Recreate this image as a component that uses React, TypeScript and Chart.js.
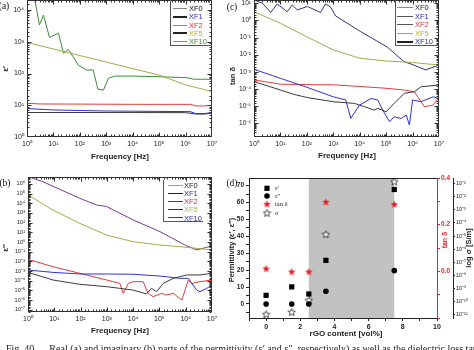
import React, { useEffect, useRef } from 'react';
import { Chart, registerables } from 'chart.js';
Chart.register(...registerables);

const W = 474, H = 350;
const FREQ_MIN = 1, FREQ_MAX = 1e7;
const NAMES = ['XF0', 'XF1', 'XF2', 'XF5', 'XF10'];

// ---------- (a) real permittivity ----------
const A_XF0_F = [1, 1e3, 1e6, 2.5e6, 5e6, 1e7];
const A_XF0_V = [5.9, 5.9, 5.85, 5.3, 5.3, 5.6];
const A_XF1_F = [1, 10, 1e3, 1e5, 1.5e6, 2.5e6, 5e6, 1e7];
const A_XF1_V = [7.9, 7.1, 6.6, 6.4, 6.3, 5.4, 5.4, 6.0];
const A_XF2_F = [1, 3, 1e4, 1.5e6, 2.5e6, 5e6, 1e7];
const A_XF2_V = [11.5, 11, 10.7, 10.7, 9.5, 9.5, 10];
const A_XF5_F = [1, 1e5, 1e6, 1e7];
const A_XF5_V = [950, 89, 44, 27];
const A_XF10_F = [1, 2, 2.95, 4.2, 7.1, 15.5, 24, 37, 87, 180, 320, 480, 780, 1200, 2100, 9000, 1.1e5, 1.1e6, 2.0e6, 1e7];
const A_XF10_V = [1e6, 2.0e4, 3400, 6900, 1380, 1860, 440, 575, 186, 129, 129, 32, 30, 71, 83, 83, 79, 74, 66, 66];

// ---------- (b) imaginary permittivity ----------
const B_XF0_F = [1, 8.9, 93, 980, 3100, 1e4, 3.2e4, 5e4, 7.8e4, 1.4e5, 3.4e5, 1.1e6, 3.5e6, 1e7];
const B_XF0_V = [7.2e-4, 1.17e-4, 4.2e-5, 2.4e-5, 1.6e-5, 1.07e-5, 4.2e-6, 1.6e-5, 7.2e-6, 5.2e-5, 1.74e-4, 3.9e-4, 3.9e-4, 5.8e-4];
const B_XF1_F = [1, 8.9, 93, 980, 1e4, 1.05e5, 6e5, 1.26e6, 2.6e6, 3.5e6, 6.3e6, 1e7];
const B_XF1_V = [1.26e-3, 7.2e-4, 4.9e-4, 4.9e-4, 4.6e-4, 3.0e-4, 1.74e-4, 1.74e-4, 1.07e-5, 7.2e-6, 1.6e-5, 3.5e-5];
const B_XF2_F = [1, 8.9, 93, 980, 3100, 4200, 6500, 1e4, 2.4e4, 3.7e4, 5.75e4, 1.2e5, 1.86e5, 3.4e5, 7.1e5, 1.26e6, 1.7e6, 3.5e6, 1e7];
const B_XF2_V = [0.016, 2.8e-3, 5.8e-4, 1.17e-4, 5.2e-5, 4.9e-6, 5.2e-5, 7.9e-5, 7.9e-5, 4.9e-6, 2.2e-6, 4.9e-6, 3.3e-6, 4.9e-6, 1.0e-6, 1.17e-4, 5.2e-5, 7.9e-5, 1.17e-4];
const B_XF5_F = [1, 8.9, 93, 980, 1e4, 1.05e5, 1.1e6, 1e7];
const B_XF5_V = [7.2e4, 2000, 85, 5.2, 1.07, 0.49, 0.28, 0.15];
const B_XF10_F = [1, 3.7, 93, 400, 980, 1e4, 1.05e5, 9.3e5, 2.6e6, 1e7];
const B_XF10_V = [5.8e6, 1.7e6, 3.3e4, 6800, 4600, 190, 11.7, 0.49, 0.15, 0.39];

// ---------- (c) tan delta ----------
const C_XF0_F = [1, 10, 32, 100, 1000, 6300, 1.5e4, 3.6e4, 4.8e4, 1e5, 2.0e5, 4.9e5, 1.17e6, 2.1e6, 1e7];
const C_XF0_V = [2.7e-4, 8.7e-5, 4.9e-5, 3.2e-5, 1.8e-5, 1.45e-5, 9.3e-6, 5.9e-6, 7.4e-6, 4.7e-6, 1.45e-5, 5.6e-5, 6.9e-5, 1.35e-4, 1.7e-4];
const C_XF1_F = [1, 10, 100, 1000, 2950, 4600, 9800, 2.7e4, 4.8e4, 7.4e4, 1.35e5, 2.0e5, 3.7e5, 5.75e5, 7.6e5, 1.0e6, 2.1e6, 5.9e6, 1e7];
const C_XF1_V = [1.4e-3, 4.2e-4, 1.26e-4, 3.5e-5, 2.3e-5, 1.95e-6, 1.15e-5, 2.8e-5, 2.3e-5, 5.9e-6, 1.23e-6, 2.4e-6, 1.9e-6, 3.0e-6, 7.9e-7, 2.3e-5, 1.8e-5, 3.5e-5, 2.8e-5];
const C_XF2_F = [1, 10, 100, 1000, 1e4, 1e5, 4.9e5, 1.17e6, 2.8e6, 5.9e6, 1e7];
const C_XF2_V = [3.4e-4, 1.9e-4, 1.8e-4, 1.75e-4, 1.4e-4, 1.1e-4, 8.7e-5, 6.9e-5, 9.3e-6, 1.15e-5, 3.2e-5];
const C_XF5_F = [1, 10, 100, 1000, 1e4, 1e5, 1e6, 1e7];
const C_XF5_V = [3.2, 0.68, 0.11, 0.019, 0.0062, 0.0043, 0.0035, 0.0025];
const C_XF10_F = [1, 2.1, 4.3, 7.6, 18, 28, 44, 105, 330, 510, 800, 1230, 1.1e4, 1.1e5, 4.7e5, 1.1e6, 3.1e6, 1e7];
const C_XF10_V = [15.5, 10, 2.9, 9.1, 3.2, 7.9, 4.1, 6.5, 2.9, 9.1, 5.9, 1.8, 0.22, 0.028, 0.004, 0.0025, 0.0013, 0.0025];

// ---------- (d) vs rGO content ----------
const CONTENT = [0, 1.5, 2.5, 3.5, 7.5];
const EPS_REAL = [5.1, 10.1, 5.9, 25.8, 67.7];
const EPS_IMAG = [0, 0, 0, 7.5, 19.7];
const TAN_DELTA = [0.014, 0.001, 0.001, 0.30, 0.29];
const SIGMA = [1.0e-11, 1.5e-11, 1.2e-10, 1.3e-5, 0.135];
const SHADE_FROM = 2.5, SHADE_TO = 7.5;
const D_LEGEND = ['ε′', 'ε″', 'tan δ', 'σ'];

const CAPTION = 'Fig. 40\u2003\u2002Real (a) and imaginary (b) parts of the permittivity (ε′ and ε″, respectively) as well as the dielectric loss tan δ (c) of';

const COL = { XF0: '#3a3a3a', XF1: '#3030d8', XF2: '#e03a3a', XF5: '#a8a848' };
const XF10_A = '#3c8c3c', XF10_B = '#7a3a96', XF10_C = '#34347c';
const FONT = "'Liberation Sans', Arial, sans-serif";

const SUP: Record<string, string> = { '-': '⁻', '0': '⁰', '1': '¹', '2': '²', '3': '³', '4': '⁴', '5': '⁵', '6': '⁶', '7': '⁷', '8': '⁸', '9': '⁹' };
const isPow10 = (v: number) => { const e = Math.log10(v); return Math.abs(e - Math.round(e)) < 1e-6; };
const pow10Label = (v: any) => {
  const n = Number(v);
  if (!(n > 0) || !isPow10(n)) return '';
  return '10' + String(Math.round(Math.log10(n))).split('').map(c => SUP[c]).join('');
};

type Area = { l: number; r: number; t: number; b: number };
type Series = { label: string; f: number[]; v: number[]; color: string };

function framePlugin(logTicks: boolean) {
  return {
    id: 'frameTicks',
    afterDatasetsDraw(chart: any) {
      const { ctx, chartArea: a } = chart;
      ctx.save();
      ctx.strokeStyle = '#333';
      ctx.lineWidth = 1;
      const L = Math.round(a.left) + 0.5, R = Math.round(a.right) - 0.5;
      const T = Math.round(a.top) + 0.5, B = Math.round(a.bottom) - 0.5;
      ctx.strokeRect(L, T, R - L, B - T);
      if (logTicks) {
        const xs = chart.scales.x, ys = chart.scales.y;
        ctx.beginPath();
        for (const t of xs.ticks) {
          if (t.value <= xs.min * 1.0001 || t.value >= xs.max * 0.9999) continue;
          const len = isPow10(t.value) ? 4 : 2;
          const p = Math.round(xs.getPixelForValue(t.value)) + 0.5;
          ctx.moveTo(p, B); ctx.lineTo(p, B - len);
          ctx.moveTo(p, T); ctx.lineTo(p, T + len);
        }
        for (const t of ys.ticks) {
          if (t.value <= ys.min * 1.0001 || t.value >= ys.max * 0.9999) continue;
          const len = isPow10(t.value) ? 4 : 2;
          const p = Math.round(ys.getPixelForValue(t.value)) + 0.5;
          ctx.moveTo(L, p); ctx.lineTo(L + len, p);
          ctx.moveTo(R, p); ctx.lineTo(R - len, p);
        }
        ctx.stroke();
      }
      ctx.restore();
    },
  };
}

function logConfig(area: Area, yMin: number, yMax: number, series: Series[], yFont: number) {
  const yW = 26, xH = 14;
  return {
    type: 'scatter',
    data: {
      datasets: series.map(s => ({
        label: s.label,
        data: s.f.map((x, i) => ({ x, y: s.v[i] })),
        showLine: true,
        borderColor: s.color,
        backgroundColor: s.color,
        borderWidth: 1,
        pointRadius: 0,
        tension: 0,
      })),
    },
    options: {
      responsive: false,
      animation: false,
      events: [],
      layout: { padding: { left: area.l - yW, right: W - area.r, top: area.t, bottom: H - area.b - xH } },
      plugins: { legend: { display: false }, tooltip: { enabled: false } },
      scales: {
        x: {
          type: 'logarithmic', min: FREQ_MIN, max: FREQ_MAX,
          grid: { display: false, drawTicks: false }, border: { display: false },
          ticks: { callback: pow10Label, autoSkip: false, maxRotation: 0, padding: 3, color: '#222', font: { family: FONT, size: 7 } },
          afterFit: (s: any) => { s.height = xH; s.paddingLeft = 0; s.paddingRight = 0; },
        },
        y: {
          type: 'logarithmic', min: yMin, max: yMax,
          grid: { display: false, drawTicks: false }, border: { display: false },
          ticks: { callback: pow10Label, autoSkip: false, padding: 3, color: '#222', font: { family: FONT, size: yFont } },
          afterFit: (s: any) => { s.width = yW; s.paddingTop = 0; s.paddingBottom = 0; },
        },
      },
    },
    plugins: [framePlugin(true)],
  };
}

function starCanvas(size: number, fill: string, stroke: string | null) {
  const c = document.createElement('canvas');
  c.width = size; c.height = size;
  const g = c.getContext('2d')!;
  const cx = size / 2, cy = size / 2, R = size / 2 - 0.6, r = R * 0.45;
  g.beginPath();
  for (let i = 0; i < 10; i++) {
    const ang = -Math.PI / 2 + (i * Math.PI) / 5;
    const rad = i % 2 ? r : R;
    g.lineTo(cx + rad * Math.cos(ang), cy + rad * Math.sin(ang));
  }
  g.closePath();
  g.fillStyle = fill; g.fill();
  if (stroke) { g.strokeStyle = stroke; g.lineWidth = 0.8; g.stroke(); }
  return c;
}

function dConfig() {
  const area: Area = { l: 249, r: 437, t: 178, b: 318 };
  const yW = 20, xH = 14, tanW = 16, sigW = 21;
  const redStar = starCanvas(9, '#e8202a', null);
  const openStar = starCanvas(9, '#ffffff', '#222');
  const pts = (ys: number[]) => CONTENT.map((x, i) => ({ x, y: ys[i] }));
  const tickFont = { family: FONT, size: 7, weight: 'bold' as const };
  const extras = {
    id: 'dExtras',
    beforeDatasetsDraw(chart: any) {
      const { ctx, chartArea: a, scales } = chart;
      const x1 = scales.x.getPixelForValue(SHADE_FROM), x2 = scales.x.getPixelForValue(SHADE_TO);
      ctx.save();
      ctx.fillStyle = '#c2c2c2';
      ctx.fillRect(x1, a.top, x2 - x1, a.bottom - a.top);
      ctx.restore();
    },
    afterDraw(chart: any) {
      const { ctx, chartArea: a } = chart;
      ctx.save();
      ctx.strokeStyle = '#222'; ctx.lineWidth = 1;
      ctx.beginPath();
      ctx.moveTo(a.left, Math.round(a.top) + 0.5); ctx.lineTo(a.right, Math.round(a.top) + 0.5);
      ctx.stroke();
      // legend markers
      const mx = 267, ys = [188.3, 196, 204.3, 213.3];
      ctx.fillStyle = '#000';
      ctx.fillRect(mx - 2.6, ys[0] - 2.6, 5.2, 5.2);
      ctx.beginPath(); ctx.arc(mx, ys[1], 2.8, 0, Math.PI * 2); ctx.fill();
      ctx.drawImage(redStar, mx - 4.5, ys[2] - 4.5);
      ctx.drawImage(openStar, mx - 4.5, ys[3] - 4.5);
      ctx.fillStyle = '#222';
      ctx.font = "6.5px 'Liberation Serif', serif";
      ctx.textBaseline = 'middle';
      D_LEGEND.forEach((t, i) => ctx.fillText(t, 275, ys[i]));
      ctx.restore();
    },
  };
  return {
    type: 'scatter',
    data: {
      datasets: [
        { label: D_LEGEND[0], data: pts(EPS_REAL), yAxisID: 'y', pointStyle: 'rect', pointRadius: 3.7, backgroundColor: '#000', borderColor: '#000', borderWidth: 0 },
        { label: D_LEGEND[1], data: pts(EPS_IMAG), yAxisID: 'y', pointStyle: 'circle', pointRadius: 2.8, backgroundColor: '#000', borderColor: '#000', borderWidth: 0 },
        { label: D_LEGEND[2], data: pts(TAN_DELTA), yAxisID: 'yTan', pointStyle: redStar, pointRadius: 4 },
        { label: D_LEGEND[3], data: pts(SIGMA), yAxisID: 'ySig', pointStyle: openStar, pointRadius: 4 },
      ],
    },
    options: {
      responsive: false,
      animation: false,
      events: [],
      layout: { padding: { left: area.l - yW, right: W - area.r - tanW - sigW, top: area.t, bottom: H - area.b - xH } },
      plugins: { legend: { display: false }, tooltip: { enabled: false } },
      scales: {
        x: {
          type: 'linear', min: -1, max: 10,
          grid: { display: true, drawOnChartArea: false, drawTicks: true, tickLength: 3, color: '#222' },
          border: { display: true, color: '#222' },
          ticks: { stepSize: 1, includeBounds: false, autoSkip: false, maxRotation: 0, padding: 2, color: '#222', font: tickFont,
            callback: (v: any) => (Number(v) >= 0 && Number(v) % 2 === 0 ? String(v) : '') },
          afterFit: (s: any) => { s.height = xH; s.paddingLeft = 0; s.paddingRight = 0; },
        },
        y: {
          type: 'linear', position: 'left', min: -8.3, max: 74.5,
          grid: { display: true, drawOnChartArea: false, drawTicks: true, tickLength: 3, color: '#222' },
          border: { display: true, color: '#222' },
          ticks: { stepSize: 5, includeBounds: false, autoSkip: false, padding: 2, color: '#222', font: { ...tickFont, size: 6.5 },
            callback: (v: any) => (Number(v) >= 0 && Number(v) % 10 === 0 ? String(v) : '') },
          afterFit: (s: any) => { s.width = yW; s.paddingTop = 0; s.paddingBottom = 0; },
        },
        yTan: {
          axis: 'y', type: 'linear', position: 'right', weight: 0, min: -0.196, max: 0.404,
          grid: { display: true, drawOnChartArea: false, drawTicks: true, tickLength: 3, color: '#e8202a' },
          border: { display: true, color: '#e8202a' },
          ticks: { stepSize: 0.1, includeBounds: false, autoSkip: false, padding: 1, color: '#e8202a', font: { ...tickFont, size: 6.5 },
            callback: (v: any) => { const k = Math.round(Number(v) * 10); return k >= 0 && k % 2 === 0 ? (k / 10).toFixed(1) : ''; } },
          afterFit: (s: any) => { s.width = tanW; s.paddingTop = 0; s.paddingBottom = 0; },
        },
        ySig: {
          axis: 'y', type: 'logarithmic', position: 'right', weight: 1, min: Math.pow(10, -11.25), max: Math.pow(10, -0.57),
          grid: { display: true, drawOnChartArea: false, drawTicks: true, tickLength: 2,
            color: (c: any) => (c.tick && isPow10(c.tick.value) ? '#222' : 'rgba(0,0,0,0)') },
          border: { display: true, color: '#222' },
          ticks: { callback: pow10Label, autoSkip: false, padding: 1, color: '#222', font: { family: FONT, size: 5.5 } },
          afterFit: (s: any) => { s.width = sigW; s.paddingTop = 0; s.paddingBottom = 0; },
        },
      },
    },
    plugins: [extras],
  };
}

function ChartCanvas({ make }: { make: () => any }) {
  const ref = useRef<HTMLCanvasElement>(null);
  useEffect(() => {
    const chart = new Chart(ref.current!, make());
    return () => chart.destroy();
  }, []);
  return <canvas ref={ref} width={W} height={H} style={{ position: 'absolute', left: 0, top: 0, width: W, height: H }} />;
}

function Txt({ x, y, rot, children, style }: { x: number; y: number; rot?: boolean; children: any; style?: any }) {
  return (
    <div style={{ position: 'absolute', left: x, top: y, transform: `translate(-50%,-50%)${rot ? ' rotate(-90deg)' : ''}`, whiteSpace: 'nowrap', lineHeight: 1, ...style }}>
      {children}
    </div>
  );
}

function Legend({ l, t, w, h, y0, dy, s0, s1, tx, sampleColors, sampleWidths, textColors }: any) {
  return (
    <div style={{ position: 'absolute', left: l, top: t, width: w, height: h, borderLeft: '1px solid #555', borderBottom: '1px solid #555', boxSizing: 'border-box' }}>
      {NAMES.map((n, i) => (
        <React.Fragment key={n}>
          <div style={{ position: 'absolute', left: s0 - l, top: y0 + i * dy - t - sampleWidths[i] / 2, width: s1 - s0, height: 0, borderTop: `${sampleWidths[i]}px solid ${sampleColors[i]}` }} />
          <div style={{ position: 'absolute', left: tx - l, top: y0 + i * dy - t - 4.5, fontFamily: FONT, fontSize: 7.5, lineHeight: '9px', color: textColors[i] }}>{n}</div>
        </React.Fragment>
      ))}
    </div>
  );
}

export default function App() {
  const mkA = () => logConfig({ l: 27, r: 212, t: 0, b: 137 }, 1, 2.07e4, [
    { label: 'XF0', f: A_XF0_F, v: A_XF0_V, color: COL.XF0 },
    { label: 'XF1', f: A_XF1_F, v: A_XF1_V, color: COL.XF1 },
    { label: 'XF2', f: A_XF2_F, v: A_XF2_V, color: COL.XF2 },
    { label: 'XF5', f: A_XF5_F, v: A_XF5_V, color: COL.XF5 },
    { label: 'XF10', f: A_XF10_F, v: A_XF10_V, color: XF10_A },
  ], 7);
  const mkC = () => logConfig({ l: 254, r: 439, t: 0, b: 137 }, Math.pow(10, -6.8), Math.pow(10, 1.19), [
    { label: 'XF0', f: C_XF0_F, v: C_XF0_V, color: COL.XF0 },
    { label: 'XF1', f: C_XF1_F, v: C_XF1_V, color: COL.XF1 },
    { label: 'XF2', f: C_XF2_F, v: C_XF2_V, color: COL.XF2 },
    { label: 'XF5', f: C_XF5_F, v: C_XF5_V, color: COL.XF5 },
    { label: 'XF10', f: C_XF10_F, v: C_XF10_V, color: XF10_C },
  ], 6.5);
  const mkB = () => logConfig({ l: 28, r: 212, t: 177, b: 312 }, Math.pow(10, -7.24), Math.pow(10, 6.72), [
    { label: 'XF0', f: B_XF0_F, v: B_XF0_V, color: COL.XF0 },
    { label: 'XF1', f: B_XF1_F, v: B_XF1_V, color: COL.XF1 },
    { label: 'XF2', f: B_XF2_F, v: B_XF2_V, color: COL.XF2 },
    { label: 'XF5', f: B_XF5_F, v: B_XF5_V, color: COL.XF5 },
    { label: 'XF10', f: B_XF10_F, v: B_XF10_V, color: XF10_B },
  ], 5.5);

  const bold = { fontFamily: FONT, fontWeight: 'bold', fontSize: 8, color: '#222' };
  const panelLbl = { fontFamily: "'Liberation Serif', serif", fontSize: 9.5, color: '#111' };

  return (
    <div style={{ position: 'fixed', left: 0, top: 0, width: W, height: H, overflow: 'hidden', background: '#fff' }}>
      <ChartCanvas make={mkA} />
      <ChartCanvas make={mkC} />
      <ChartCanvas make={mkB} />
      <ChartCanvas make={dConfig} />

      <Legend l={170} t={-1} w={42} h={47} y0={8.3} dy={8.35} s0={172} s1={186} tx={188}
        sampleColors={['#888', '#222', '#888', '#222', '#888']} sampleWidths={[1, 2, 1, 2, 1]}
        textColors={['#222', '#2828d0', '#d83030', '#b0b040', '#4a8a4a']} />
      <Legend l={395} t={-1} w={44} h={47} y0={7.5} dy={8.5} s0={396} s1={412} tx={414}
        sampleColors={['#888', '#555', '#555', '#999', '#222']} sampleWidths={[1, 1, 1, 1, 2]}
        textColors={['#222', '#2828d0', '#d83030', '#b0b040', '#34347c']} />
      <Legend l={163} t={180} w={40} h={42} y0={185} dy={8.3} s0={167} s1={182} tx={183}
        sampleColors={['#999', '#222', '#444', '#333', '#444']} sampleWidths={[1, 1.5, 1.5, 1.5, 1.5]}
        textColors={['#222', '#2828d0', '#d83030', '#b0b040', '#3a3aa0']} />

      <Txt x={4} y={4}><span style={panelLbl}>(a)</span></Txt>
      <Txt x={232} y={5}><span style={panelLbl}>(c)</span></Txt>
      <Txt x={5} y={181}><span style={panelLbl}>(b)</span></Txt>
      <Txt x={232} y={181}><span style={panelLbl}>(d)</span></Txt>

      <Txt x={120} y={157} style={bold}>Frequency [Hz]</Txt>
      <Txt x={347} y={156} style={bold}>Frequency [Hz]</Txt>
      <Txt x={120} y={331} style={bold}>Frequency [Hz]</Txt>
      <Txt x={346} y={334} style={bold}>rGO content [vol%]</Txt>

      <Txt x={6} y={69} rot style={{ ...bold, fontSize: 8 }}>ε′</Txt>
      <Txt x={6} y={248} rot style={{ ...bold, fontSize: 8 }}>ε″</Txt>
      <Txt x={233} y={76} rot style={{ ...bold, fontSize: 7.5 }}>tan δ</Txt>
      <Txt x={232} y={250} rot style={{ ...bold, fontSize: 7.5 }}>Permittivity (ε′, ε″)</Txt>
      <Txt x={444} y={240} rot style={{ ...bold, fontSize: 7, color: '#e8202a' }}>tan δ</Txt>
      <Txt x={469} y={248} rot style={{ ...bold, fontSize: 7.5 }}>log σ [S/m]</Txt>

      <div style={{ position: 'absolute', left: 6, top: 343, fontFamily: "'Liberation Serif', serif", fontSize: 10, lineHeight: '12px', color: '#222', whiteSpace: 'nowrap' }}>{CAPTION}</div>
    </div>
  );
}
